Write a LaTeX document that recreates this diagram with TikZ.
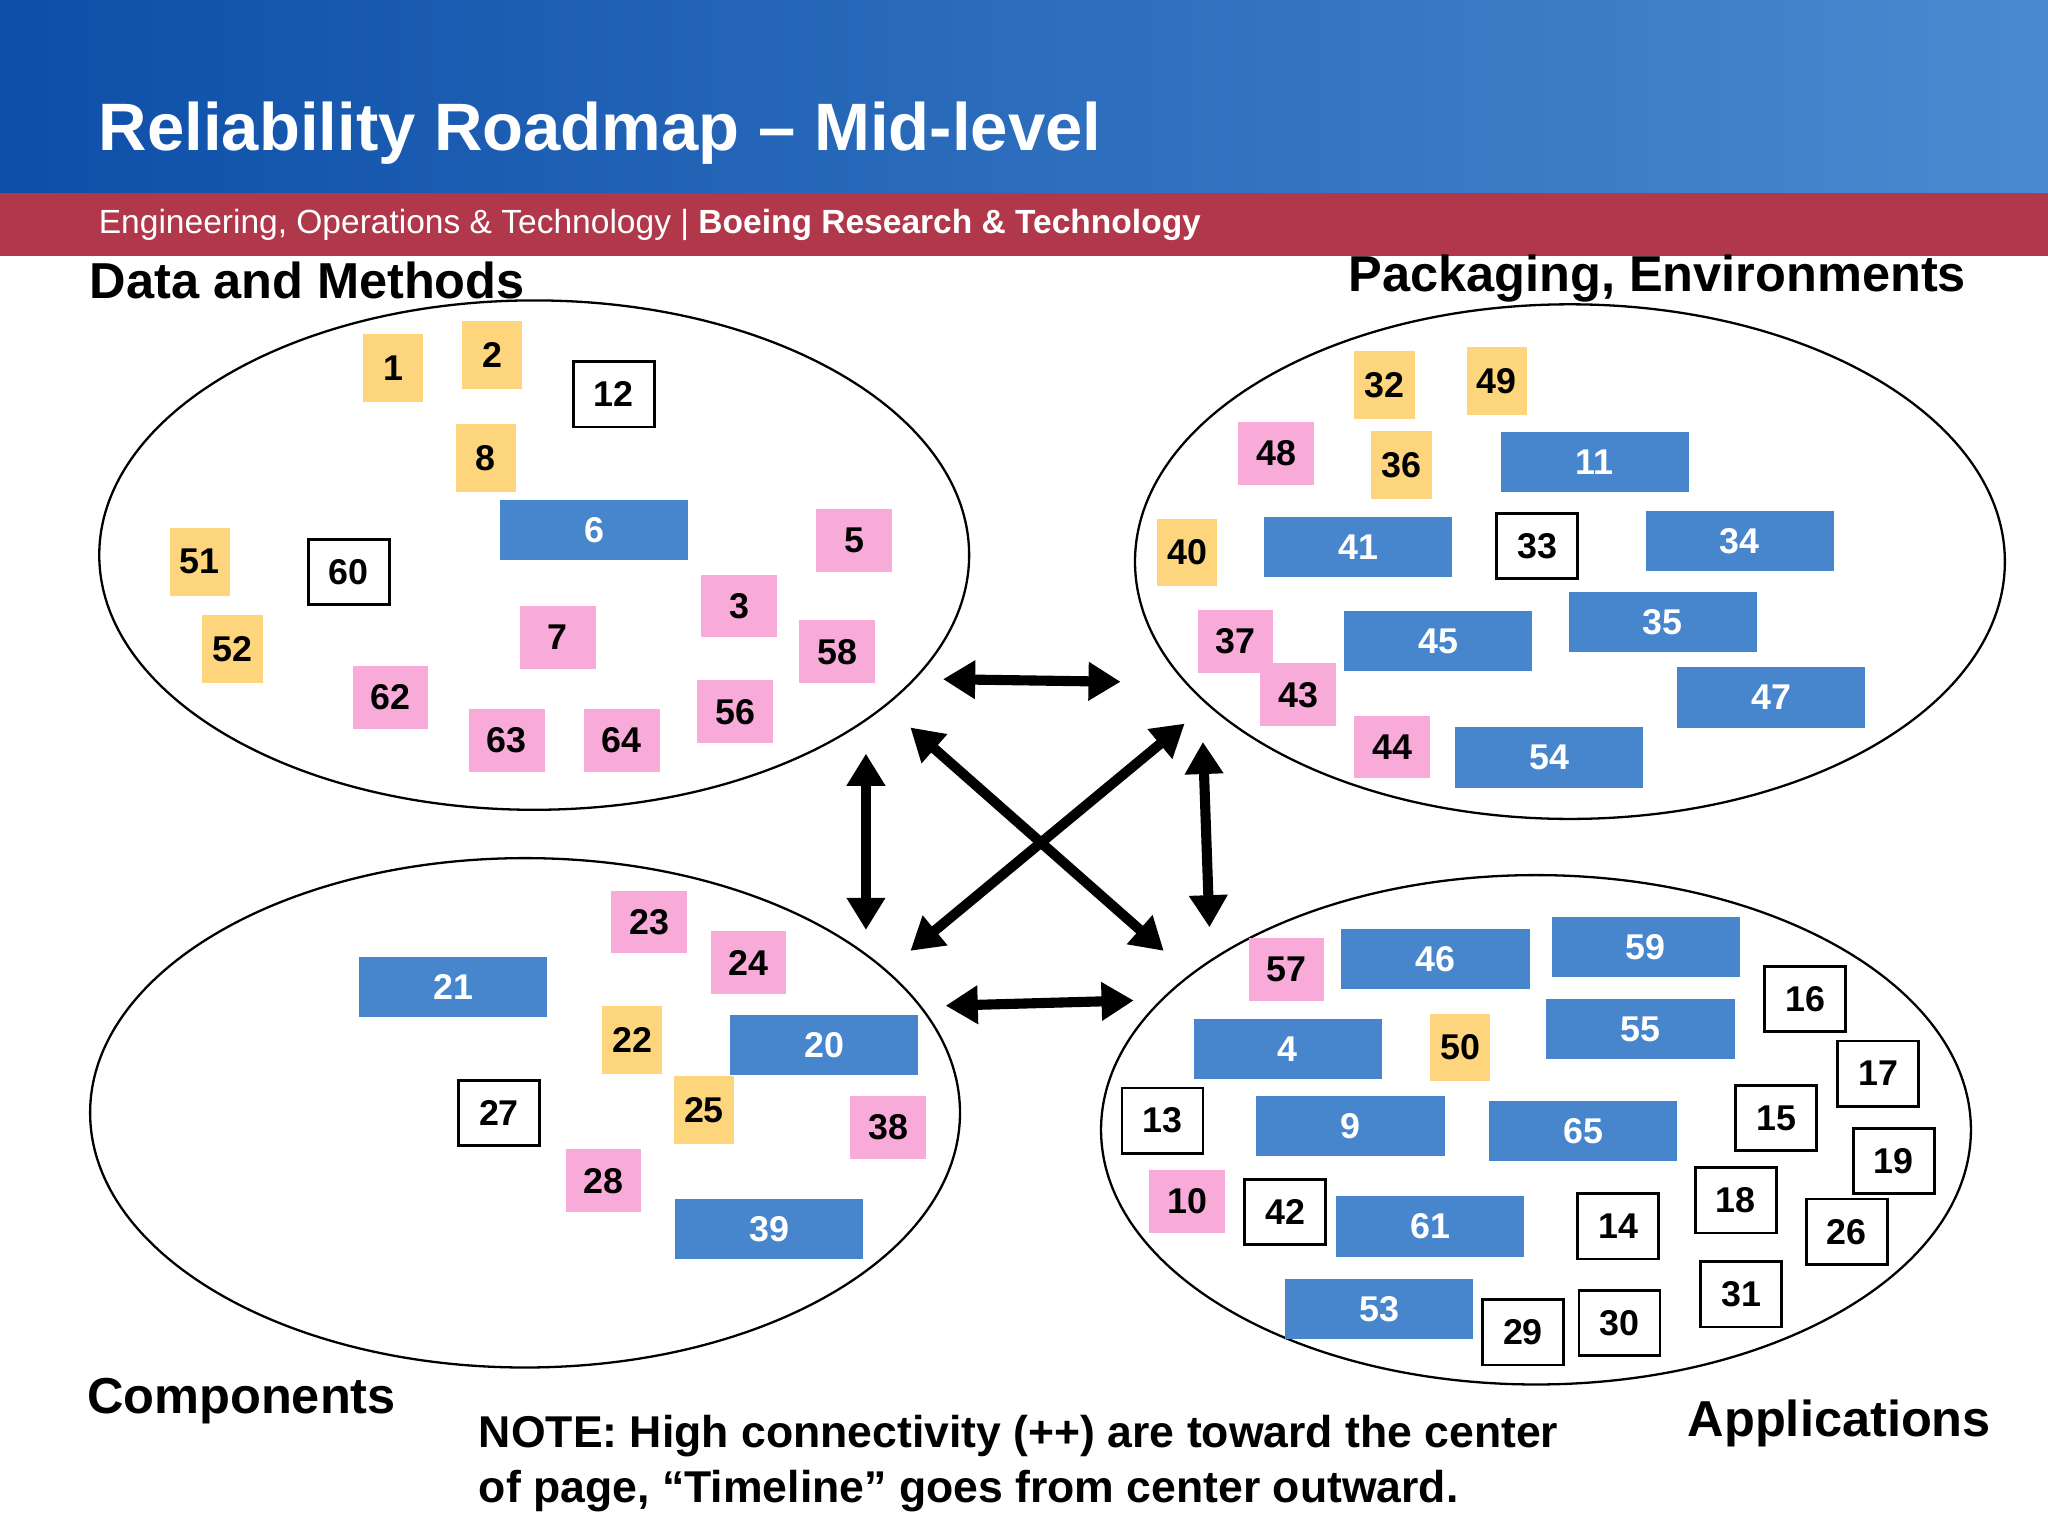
\documentclass[tikz,border=0pt]{standalone}
\usepackage{fontspec}
\setmainfont{Liberation Sans}
\usetikzlibrary{arrows.meta}
\definecolor{hdrA}{HTML}{0D4FA8}
\definecolor{hdrB}{HTML}{4A8AD0}
\definecolor{band}{HTML}{B0384A}
\definecolor{yel}{HTML}{FDD57C}
\definecolor{pnk}{HTML}{F8AAD8}
\definecolor{blu}{HTML}{4785CC}
\tikzset{
 yb/.style={fill=yel,minimum width=0.46cm,minimum height=0.52cm,inner sep=0,font=\fontsize{7.8}{9}\selectfont\bfseries},
 pb/.style={fill=pnk,minimum width=0.58cm,minimum height=0.48cm,inner sep=0,font=\fontsize{7.8}{9}\selectfont\bfseries},
 bb/.style={fill=blu,minimum width=1.44cm,minimum height=0.46cm,inner sep=0,text=white,font=\fontsize{7.8}{9}\selectfont\bfseries},
 wb/.style={draw=black,line width=0.6pt,fill=white,minimum width=0.62cm,minimum height=0.5cm,inner sep=0,font=\fontsize{7.8}{9}\selectfont\bfseries},
 grp/.style={draw=black,line width=0.5pt},
 dbl/.style={line width=2.2pt,{Triangle[length=7pt,width=8pt]}-{Triangle[length=7pt,width=8pt]}},
 lab/.style={font=\fontsize{11}{13}\selectfont\bfseries,inner sep=0},
}
\begin{document}
\begin{tikzpicture}[x=0.01cm,y=-0.01cm]
\useasboundingbox (0,0) rectangle (1568,1176);
\shade[left color=hdrA,right color=hdrB] (0,0) rectangle (1568,148);
\fill[band] (0,148) rectangle (1568,196);
\node[anchor=west,text=white,font=\fontsize{14.6}{17}\selectfont\bfseries,inner sep=0] (title) at (75,102) {Reliability Roadmap – Mid-level};
\node[anchor=west,text=white,font=\fontsize{7.3}{9}\selectfont,inner sep=0] (sub) at (75,172) {Engineering, Operations \& Technology | \textbf{Boeing Research \& Technology}};
\draw[grp] (409,425) ellipse[x radius=333,y radius=195];
\draw[grp] (1202,430) ellipse[x radius=333,y radius=197];
\draw[grp] (402,852) ellipse[x radius=333,y radius=195];
\draw[grp] (1176,865) ellipse[x radius=333,y radius=195];
\node[lab,anchor=west] (l1) at (68,215) {Data and Methods};
\node[lab,anchor=east] (l2) at (1506,213) {Packaging, Environments};
\node[lab,anchor=west] (l3) at (66,1073) {Components};
\node[lab,anchor=east] (l4) at (1525,1090) {Applications};
\node[anchor=north west,align=left,inner sep=0,font=\fontsize{9.7}{12}\selectfont\bfseries] (note) at (366,1083) {NOTE: High connectivity (++) are toward the center\\of page, “Timeline” goes from center outward.};
\foreach \n/\x/\y in {1/301/282,2/377/272,8/372/351,51/153/430,52/178/497,32/1060/295,49/1146/292,36/1073/356,40/909/423,22/484/796,25/539/850,50/1118/802}
  \node[yb] (n\n) at (\x,\y) {\n};
\foreach \n/\x/\y in {5/654/414,3/566/464,7/427/488,58/641/499,62/299/534,63/388/567,64/476/567,56/563/545,48/977/347,37/946/491,43/994/532,44/1066/572,23/497/706,24/573/737,28/462/904,38/680/863,57/985/742,10/909/920}
  \node[pb] (n\n) at (\x,\y) {\n};
\foreach \n/\x/\y in {6/455/406,11/1221/354,41/1040/419,34/1332/414,45/1101/491,35/1273/476,47/1356/534,54/1186/580,21/347/756,20/631/800,39/589/941,46/1099/734,59/1260/725,4/986/803,55/1256/788,9/1034/862,65/1212/866,61/1095/939,53/1056/1002}
  \node[bb] (n\n) at (\x,\y) {\n};
\foreach \n/\x/\y in {12/470/302,60/267/438,33/1177/418,27/382/852,16/1382/765,17/1438/822,13/890/858,15/1360/856,19/1450/889,18/1329/919,42/984/928,14/1239/939,26/1414/943,31/1333/991,29/1166/1020,30/1240/1013}
  \node[wb] (n\n) at (\x,\y) {\n};
\coordinate (a1) at (722,520); \coordinate (a2) at (858,522);
\coordinate (b1) at (724,770); \coordinate (b2) at (868,766);
\coordinate (c1) at (663,577); \coordinate (c2) at (663,712);
\coordinate (d1) at (921,568); \coordinate (d2) at (926,710);
\coordinate (e1) at (697,557); \coordinate (e2) at (891,728);
\coordinate (f1) at (907,554); \coordinate (f2) at (697,728);
\foreach \p/\q in {a1/a2,b1/b2,c1/c2,d1/d2,e1/e2,f1/f2} \draw[dbl] (\p) -- (\q);
\end{tikzpicture}
\end{document}
